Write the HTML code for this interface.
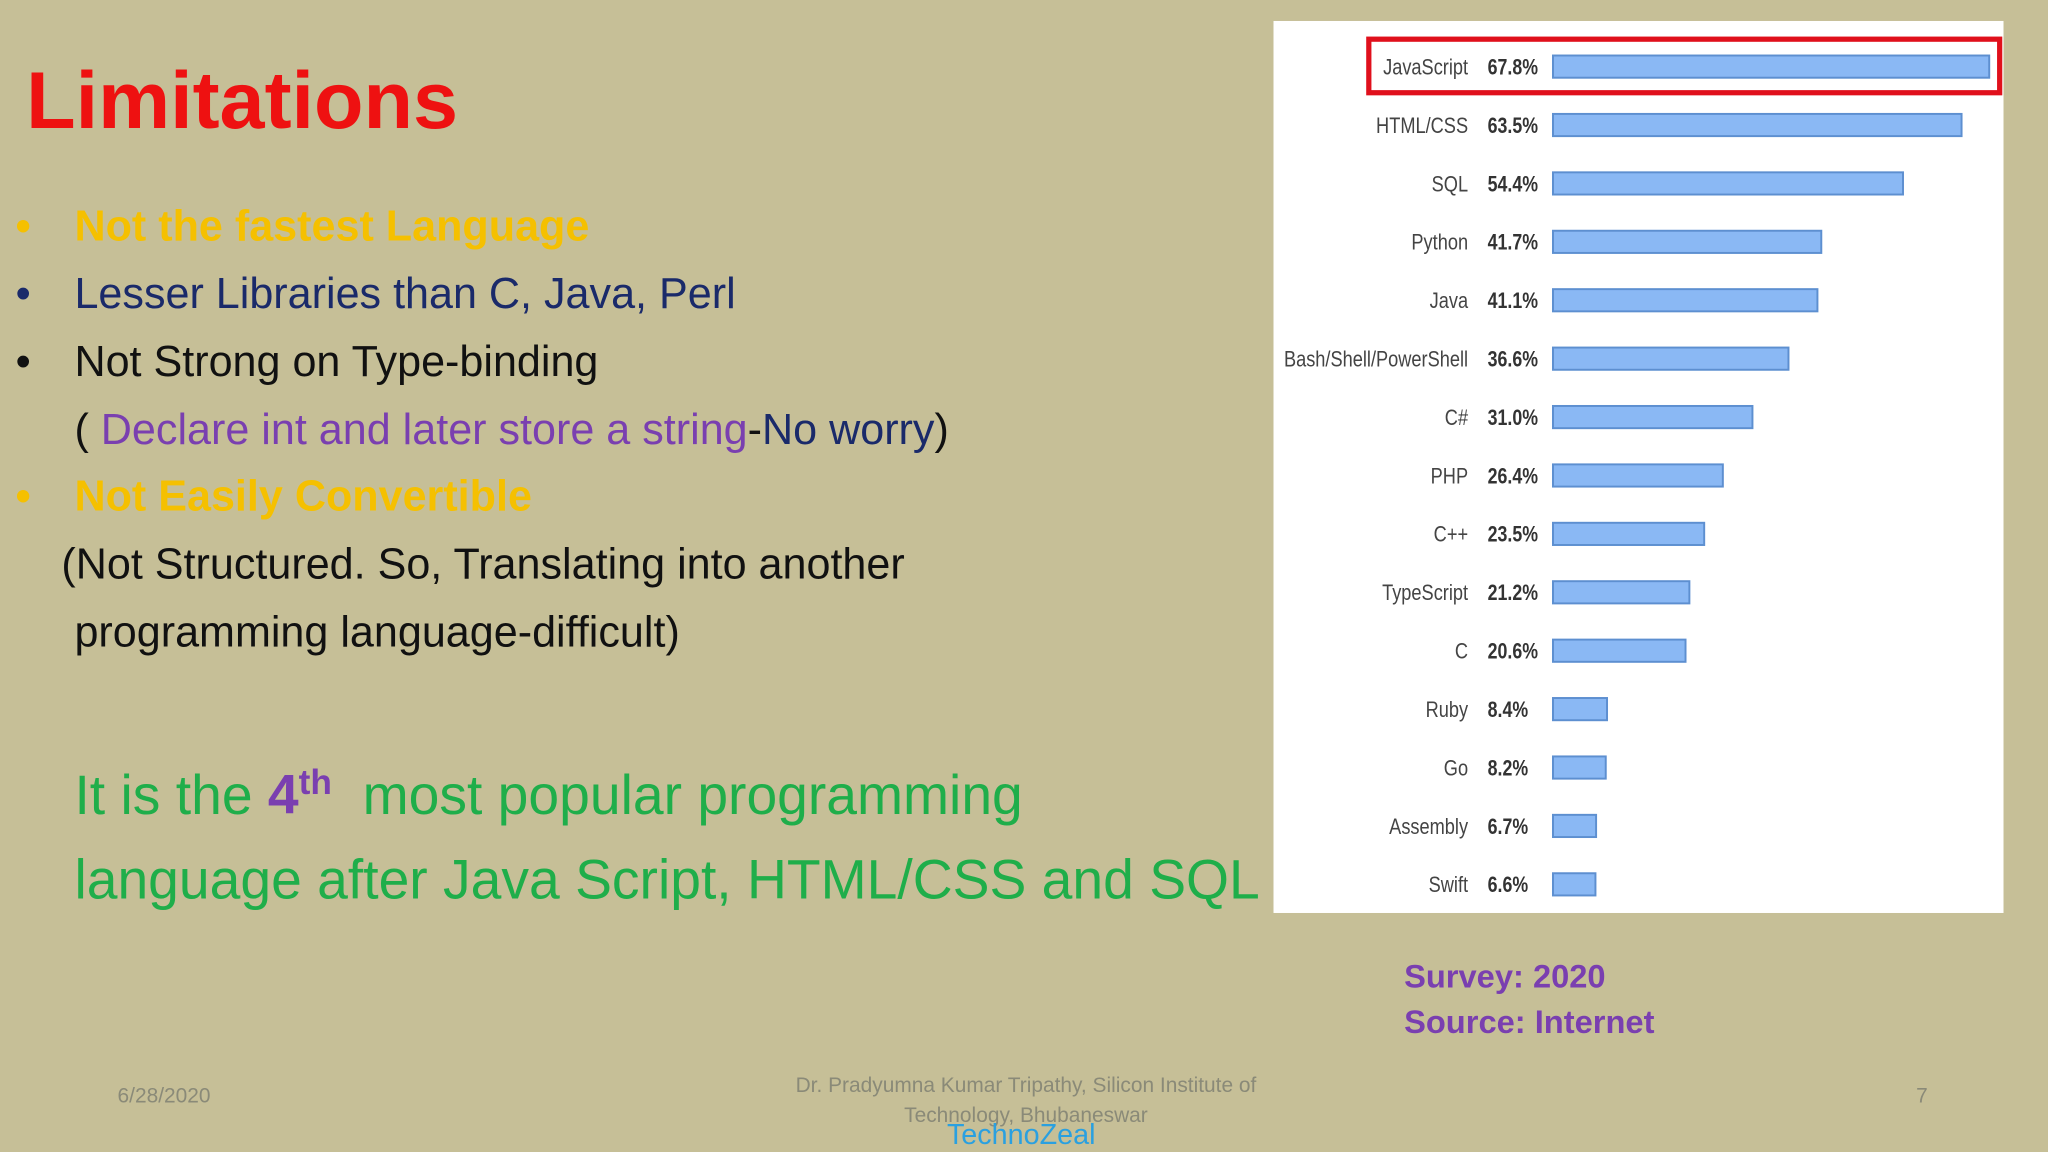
<!DOCTYPE html>
<html><head><meta charset="utf-8">
<style>
html,body{margin:0;padding:0;}
body{width:2048px;height:1152px;overflow:hidden;background:#c6bf97;}
#stage{position:absolute;left:0;top:0;width:1568px;height:882px;transform:scale(1.306122);transform-origin:0 0;font-family:"Liberation Sans","DejaVu Sans",sans-serif;}
.t{position:absolute;white-space:nowrap;}
.b{font-size:33px;line-height:1;}
</style></head><body>
<div id="stage">
<div class="t" style="left:20px;top:42px;font-size:62px;font-weight:bold;color:#ee1111;">Limitations</div>

<div class="t b" style="left:12px;top:156px;color:#f5c000;font-weight:bold;"><span style="display:inline-block;width:45px">•</span>Not the fastest Language</div>
<div class="t b" style="left:12px;top:208px;color:#1a2a6a;"><span style="display:inline-block;width:45px;">•</span>Lesser Libraries than C, Java, Perl</div>
<div class="t b" style="left:12px;top:260px;color:#111;"><span style="display:inline-block;width:45px">•</span>Not Strong on Type-binding</div>
<div class="t b" style="left:57px;top:312px;color:#111;">( <span style="color:#7a3fb0">Declare int and later store a string</span>-<span style="color:#1a2a6a">No worry</span>)</div>
<div class="t b" style="left:12px;top:363px;color:#f5c000;font-weight:bold;"><span style="display:inline-block;width:45px">•</span>Not Easily Convertible</div>
<div class="t b" style="left:47px;top:415px;color:#111;">(Not Structured. So, Translating into another</div>
<div class="t b" style="left:57px;top:467px;color:#111;">programming language-difficult)</div>

<div class="t" style="left:57px;top:584px;font-size:42.3px;color:#1fae4a;">It is the <b style="color:#7a3fb0">4<sup style="font-size:27px;">th</sup></b>&nbsp; most popular programming</div>
<div class="t" style="left:57px;top:650px;font-size:42.3px;color:#1fae4a;">language after Java Script, HTML/CSS and SQL</div>

<div class="t" style="left:1075px;top:734px;font-size:25px;font-weight:bold;color:#7a3fb0;">Survey: 2020</div>
<div class="t" style="left:1075px;top:769px;font-size:25px;font-weight:bold;color:#7a3fb0;">Source: Internet</div>

<div class="t" style="left:90px;top:831px;font-size:16px;color:#8a8a78;">6/28/2020</div>
<div class="t" style="left:583px;top:820px;width:405px;text-align:center;font-size:16px;line-height:23px;color:#8a8a78;white-space:normal;">Dr. Pradyumna Kumar Tripathy, Silicon Institute of Technology, Bhubaneswar</div>
<div class="t" style="left:1467px;top:831px;font-size:16px;color:#8a8a78;">7</div>
<div class="t" style="left:725px;top:856px;font-size:22px;color:#2aa0e0;">TechnoZeal</div>

<svg style="position:absolute;left:975px;top:16px;" width="559" height="683" viewBox="975 16 559 683">
<rect x="975" y="16" width="559" height="683" fill="#ffffff"/>
<g id="bars"></g>
<rect x="1048" y="30" width="483" height="41" fill="none" stroke="#e0101c" stroke-width="4"/>
</svg>
</div>
<script>
const categories=["JavaScript","HTML/CSS","SQL","Python","Java","Bash/Shell/PowerShell","C#","PHP","C++","TypeScript","C","Ruby","Go","Assembly","Swift"];
const values=[67.8,63.5,54.4,41.7,41.1,36.6,31.0,26.4,23.5,21.2,20.6,8.4,8.2,6.7,6.6];
const valueLabels=["67.8%","63.5%","54.4%","41.7%","41.1%","36.6%","31.0%","26.4%","23.5%","21.2%","20.6%","8.4%","8.2%","6.7%","6.6%"];
const x0=1189, pxPer=334/67.8;
function xScale(v){return x0+v*pxPer;}
function yScale(i){return 51+i*44.72;}
const g=document.getElementById('bars');
const NS="http://www.w3.org/2000/svg";
categories.forEach((c,i)=>{
  const y=yScale(i);
  const r=document.createElementNS(NS,'rect');
  r.setAttribute('x',x0);r.setAttribute('y',y-8.5);
  r.setAttribute('width',xScale(values[i])-x0);r.setAttribute('height',17);
  r.setAttribute('fill','#8ab8f4');r.setAttribute('stroke','#5d8fd0');r.setAttribute('stroke-width','1.5');
  
  
  g.appendChild(r);
  const t=document.createElementNS(NS,'text');
  t.setAttribute('x',0);t.setAttribute('y',0);t.setAttribute('text-anchor','end');
  t.setAttribute('transform','translate(1124,'+(y+6)+') scale(0.82,1)');
  t.setAttribute('font-size','17');t.setAttribute('fill','#444');
  t.textContent=c;
  
  
  g.appendChild(t);
  const v=document.createElementNS(NS,'text');
  v.setAttribute('x',0);v.setAttribute('y',0);
  v.setAttribute('transform','translate(1139,'+(y+6)+') scale(0.8,1)');
  v.setAttribute('font-size','17');v.setAttribute('font-weight','bold');v.setAttribute('fill','#333');
  v.textContent=valueLabels[i];
  
  
  g.appendChild(v);
});
</script>
</body></html>
